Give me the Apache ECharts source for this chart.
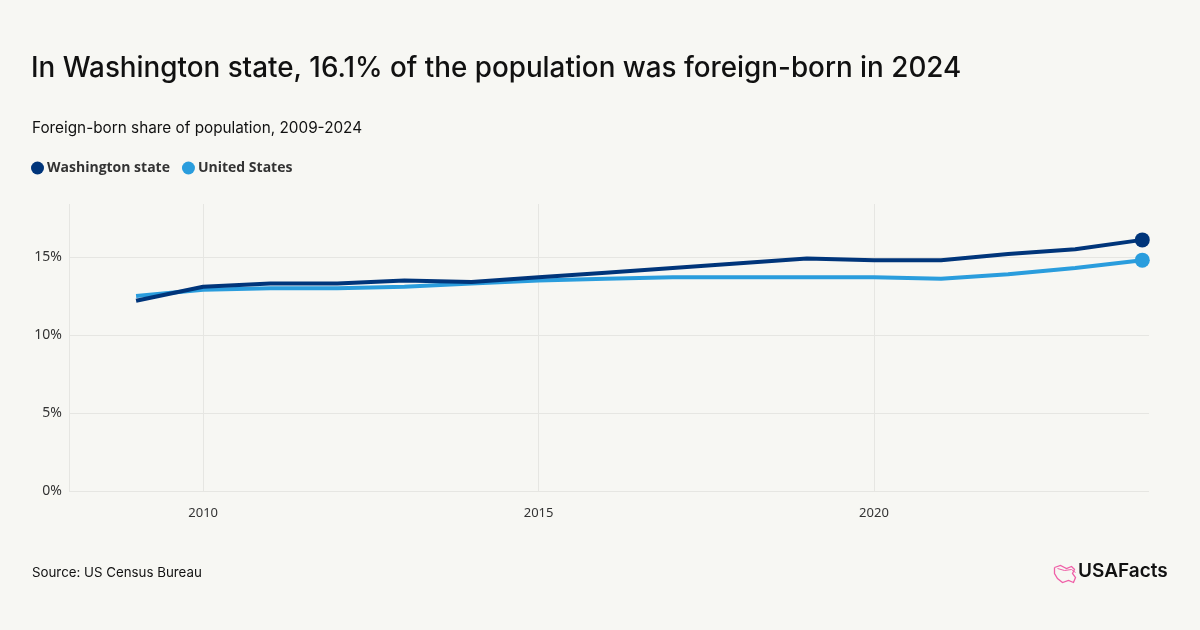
<!DOCTYPE html>
<html>
<head>
<meta charset="utf-8">
<script src="https://cdn.jsdelivr.net/npm/echarts@6/dist/echarts.min.js"></script>
<style>
  html, body { margin: 0; padding: 0; background: #f7f7f3; }
  #chart { width: 1200px; height: 630px; }
</style>
</head>
<body>
<div id="chart"></div>
<script>
// 数据
const years = [2009, 2010, 2011, 2012, 2013, 2014, 2015, 2016, 2017, 2018, 2019, 2020, 2021, 2022, 2023, 2024]
const washington = [12.2, 13.1, 13.3, 13.3, 13.5, 13.4, 13.7, 14.0, 14.3, 14.6, 14.9, 14.8, 14.8, 15.2, 15.5, 16.1]
const unitedStates = [12.5, 12.9, 13.0, 13.0, 13.1, 13.3, 13.5, 13.6, 13.7, 13.7, 13.7, 13.7, 13.6, 13.9, 14.3, 14.8]
const yTicks = [0, 5, 10, 15]
const xTickLabels = [2010, 2015, 2020]

const gridColor = '#e6e6e2'
const clear = 'rgba(0,0,0,0)'

// x 轴刻度 2008..2024 再加 max，只在 2008 和 5 的倍数年份画竖线
const xMin = 2008
const xMax = 2024.1
let xLineColors = []
for (let y = xMin; y <= 2024; y++) {
  xLineColors.push(y === xMin || xTickLabels.indexOf(y) > -1 ? gridColor : clear)
}
xLineColors.push(clear)
// y 轴刻度 0,5,10,15 再加 max，顶部不画线
const yLineColors = yTicks.map(() => gridColor).concat([clear])

const lastSize = (val, params) => params.dataIndex === years.length - 1 ? 15 : 0

const chart = echarts.init(document.getElementById('chart'))
chart.setOption({
  backgroundColor: '#f7f7f3',
  animation: false,
  title: [
    {
      text: 'In Washington state, 16.1% of the population was foreign-born in 2024',
      left: 26, top: 50,
      textStyle: { fontFamily: 'Inter', fontWeight: 500, fontSize: 27.8, color: '#111' }
    },
    {
      text: 'Foreign-born share of population, 2009-2024',
      left: 27, top: 116,
      textStyle: { fontFamily: 'Inter', fontWeight: 400, fontSize: 15.3, color: '#111' }
    },
    {
      text: 'Source: US Census Bureau',
      left: 27, top: 561,
      textStyle: { fontFamily: 'Inter', fontWeight: 400, fontSize: 13.3, color: '#111' }
    }
  ],
  legend: {
    left: 26, top: 156,
    icon: 'circle',
    itemWidth: 13, itemHeight: 13,
    itemGap: 12,
    textStyle: { fontFamily: 'Open Sans', fontWeight: 700, fontSize: 14, color: '#333', padding: [0, 0, 0, -2] },
    data: ['Washington state', 'United States']
  },
  grid: { left: 69, right: 51, top: 204, bottom: 139 },
  xAxis: {
    type: 'value',
    min: xMin, max: xMax, interval: 1,
    axisLine: { show: false },
    axisTick: { show: false },
    axisLabel: {
      margin: 16,
      fontFamily: 'Noto Sans', fontSize: 13, color: '#333',
      formatter: v => xTickLabels.indexOf(v) > -1 ? String(v) : ''
    },
    splitLine: { show: true, lineStyle: { color: xLineColors, width: 1 } }
  },
  yAxis: {
    type: 'value',
    min: 0, max: 18.4, interval: 5,
    axisLine: { show: false },
    axisTick: { show: false },
    axisLabel: {
      margin: 7,
      fontFamily: 'Noto Sans', fontSize: 14, color: '#333',
      formatter: v => yTicks.indexOf(v) > -1 ? v + '%' : ''
    },
    splitLine: { show: true, lineStyle: { color: yLineColors, width: 1 } }
  },
  series: [
    {
      name: 'United States',
      type: 'line',
      color: '#2a9ddd',
      data: years.map((y, i) => [y, unitedStates[i]]),
      symbol: 'circle',
      symbolSize: lastSize,
      showAllSymbol: true,
      lineStyle: { width: 4, color: '#2a9ddd' },
      itemStyle: { color: '#2a9ddd' },
      z: 2
    },
    {
      name: 'Washington state',
      type: 'line',
      color: '#00357a',
      data: years.map((y, i) => [y, washington[i]]),
      symbol: 'circle',
      symbolSize: lastSize,
      showAllSymbol: true,
      lineStyle: { width: 4, color: '#00357a' },
      itemStyle: { color: '#00357a' },
      z: 3
    }
  ],
  graphic: [
    {
      type: 'polyline',
      left: 1052, top: 563,
      shape: { points: [[0, 2], [6, 0], [12, 3], [17, 1], [20, 4], [18, 8], [21, 12], [19, 17], [14, 15], [8, 17], [3, 13], [0, 8], [0, 2]] },
      style: { stroke: '#ef5fa7', lineWidth: 1.3, fill: null }
    },
    {
      type: 'polyline',
      left: 1055, top: 566,
      shape: { points: [[0, 3], [7, 5], [14, 4], [18, 7]] },
      style: { stroke: '#ef5fa7', lineWidth: 1, fill: null }
    },
    {
      type: 'text',
      left: 1078, top: 562,
      style: { text: 'USAFacts', font: '600 19px Inter', fill: '#111' }
    }
  ]
})
</script>
</body>
</html>
